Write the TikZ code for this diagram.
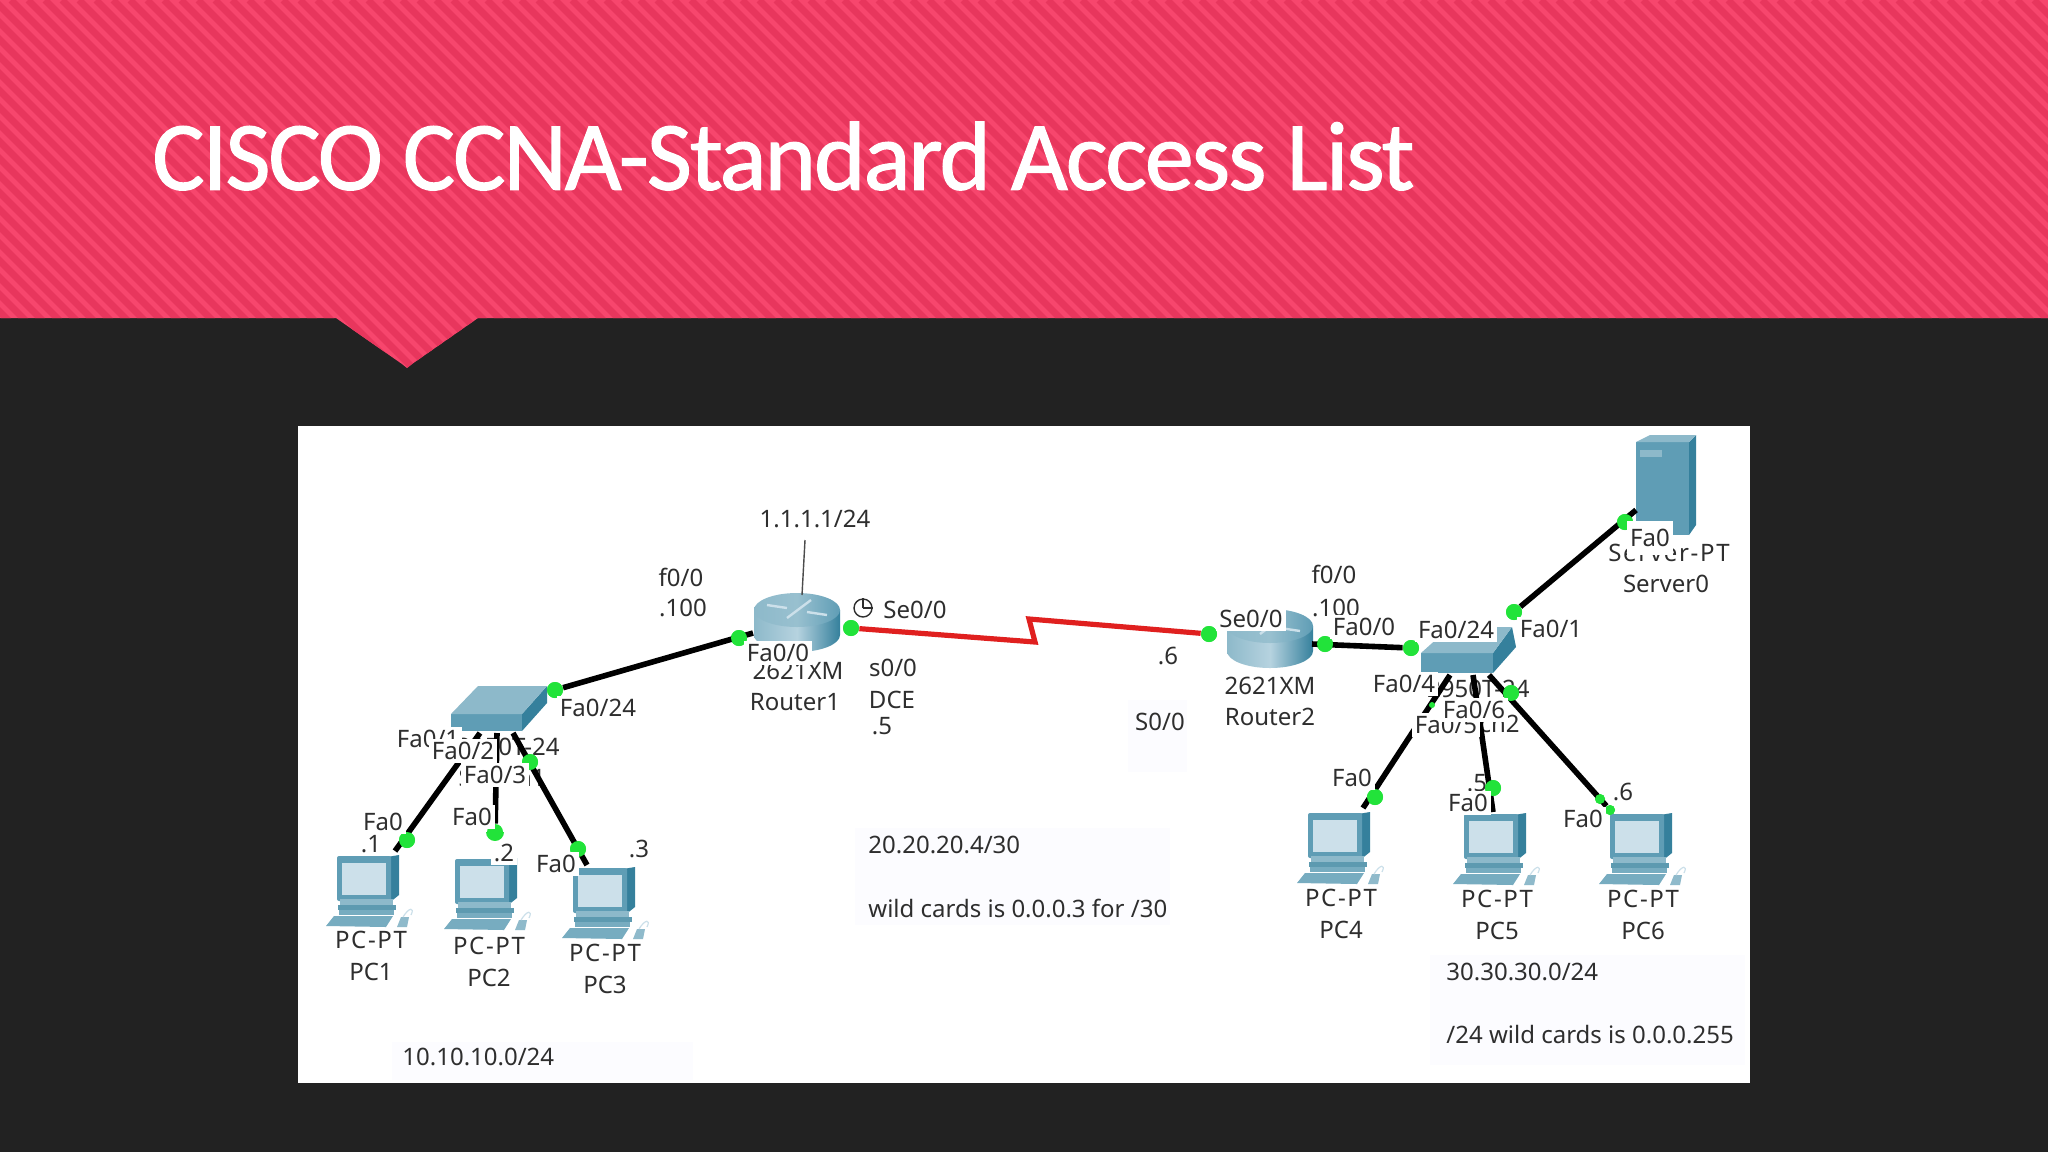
\documentclass[tikz,border=0pt]{standalone}
\usepackage{fontspec}
\setmainfont{Noto Sans}
\newfontfamily\titlefont[LetterSpace=-2,FakeBold=1.2]{Carlito}
\usetikzlibrary{calc}
\definecolor{slidebg}{HTML}{222222}
\definecolor{bannerA}{HTML}{F7466D}
\definecolor{bannerB}{HTML}{E8365D}
\definecolor{iconA}{HTML}{5F9DB5}
\definecolor{iconB}{HTML}{35809C}
\definecolor{iconC}{HTML}{CCE0EA}
\definecolor{iconD}{HTML}{8DB9CA}
\definecolor{portgreen}{HTML}{22E33A}
\definecolor{textgrey}{HTML}{2E2E2E}
\definecolor{serialred}{HTML}{E0201F}
\tikzset{
    lbl/.style={font=\fontsize{12}{14}\selectfont,text=textgrey,inner sep=1pt},
    wide/.style={font=\fontsize{12}{14}\selectfont\addfontfeature{LetterSpace=7}},
    port/.style={lbl,fill=white,inner xsep=1.5pt,inner ysep=1.5pt},
    note/.style={lbl,anchor=west},
    dot/.style={circle,fill=portgreen,minimum size=8pt,inner sep=0pt},
    link/.style={line width=2.8pt,black},
    serial/.style={line width=2.6pt,serialred},
    faint/.style={fill=black!1!blue!1!white,draw=none},
    pc/.pic={
        % monitor, stand, keyboard, mouse
        \fill[iconB] (50,2) -- (62,0) -- (62,40) -- (52,48) -- cycle;
        \fill[iconA,rounded corners=1pt] (0,1) rectangle (54,46);
        \fill[iconC] (5,8) rectangle (49,40);
        \fill[iconD] (3,44) rectangle (56,50);
        \fill[iconB!80!white] (1,50) rectangle (59,55);
        \fill[iconA!85!white] (2,55) rectangle (57,60);
        \fill[iconA!85!white] (-11,71) -- (-3,61) -- (56,61) -- (49,72) -- cycle;
        \fill[iconA!70!white] (60,72) -- (64,62) -- (72,62) -- (70,72) -- cycle;
        \draw[iconC,line width=.6pt] (66,62) .. controls (72,52) and (78,52) .. (74,60);
    },
    router/.pic={
        \shade[left color=iconD,right color=iconB,middle color=iconC!80!iconA] (-43,0) -- (-43,25) arc[x radius=43,y radius=17,start angle=180,end angle=0] -- (43,0) -- cycle;
        \shade[left color=iconD,right color=iconA,middle color=iconD!90!white] (0,0) ellipse[x radius=43,y radius=17];
        \draw[iconC,line width=1.2pt] (-30,-5) -- (-10,-2) (30,5) -- (10,2) (14,-10) -- (-10,8);
    },
}
\begin{document}
\begin{tikzpicture}[x=.5pt,y=-.5pt]
    \useasboundingbox (0,0) rectangle (2048,1152);
    \fill[slidebg] (0,0) rectangle (2048,1152);
    % banner with its stripes
    \begin{scope}
    \clip (0,0) -- (2048,0) -- (2048,318) -- (478,318) -- (412,364) -- (407,368) -- (402,364) -- (336,318) -- (0,318) -- cycle;
    \fill[bannerA] (0,0) rectangle (2048,370);
    \foreach \s in {-380,-363,...,2048}
        \draw[bannerB,line width=3.5pt] (\s,0) -- (\s+370,370);
    \end{scope}
    \node[font=\titlefont\fontsize{49}{55}\selectfont,text=white,anchor=west,inner sep=0pt] (title) at (152,156) {CISCO CCNA-Standard Access List};
    % panel
    \fill[white] (298,426) rectangle (1750,1083);
    \fill[faint] (392,1042) rectangle (693,1080);
    \fill[faint] (855,828) rectangle (1170,925);
    \fill[faint] (1128,700) rectangle (1187,772);
    \fill[faint] (1430,955) rectangle (1745,1065);
    \node[lbl] (dotone) at (371,844) {.1};
    % devices
    \pic at (337,855) {pc};
    \pic at (455,858) {pc};
    \pic at (573,867) {pc};
    \pic at (1308,812) {pc};
    \pic at (1464,813) {pc};
    \pic at (1610,813) {pc};
    \pic at (797,610) {router};
    \pic at (1270,626) {router};
    % switch1
    \fill[iconA] (451,714) rectangle (522,731);
    \fill[iconB] (522,714) -- (547,686) -- (547,703) -- (522,731) -- cycle;
    \fill[iconD] (451,714) -- (478,686) -- (547,686) -- (522,714) -- cycle;
    % switch2
    \fill[iconA] (1421,653) rectangle (1493,673);
    \fill[iconB] (1493,653) -- (1512,627) -- (1516,647) -- (1493,673) -- cycle;
    \fill[iconD] (1421,653) -- (1450,627) -- (1512,627) -- (1493,653) -- cycle;
    % server
    \fill[iconA] (1636,442) rectangle (1689,535);
    \fill[iconB] (1689,442) -- (1696,435) -- (1696,525) -- (1689,535) -- cycle;
    \fill[iconD] (1636,442) -- (1650,435) -- (1696,435) -- (1689,442) -- cycle;
    \fill[iconD] (1640,450) rectangle (1662,457);
    % names under the switches, overdrawn further on
    \node[lbl,anchor=east] (swA) at (562,747) {2950T-24};
    \node[lbl,anchor=east] (swAname) at (548,777) {Switch1};
    \node[lbl,anchor=east] (swB) at (1532,689) {2950T-24};
    \node[lbl,anchor=east] (swBname) at (1522,723) {Switch2};
    \node[lbl] (dotfive) at (1477,783) {.5};
    % ports
    \node[dot] (swAup) at (555,690) {};
    \node[dot] (rAl) at (739,638) {};
    \node[dot] (rAr) at (851,628) {};
    \node[dot] (rBl) at (1209,634) {};
    \node[dot] (rBr) at (1325,644) {};
    \node[dot] (swBl) at (1411,648) {};
    \node[dot] (swBup) at (1514,612) {};
    \node[dot] (srv) at (1625,522) {};
    \node[dot] (swAc) at (530,762) {};
    \node[dot] (swBc) at (1511,693) {};
    \node[dot] (pcA) at (407,840) {};
    \node[dot] (pcB) at (495,832) {};
    \node[dot] (pcC) at (578,849) {};
    \node[dot] (pcD) at (1375,797) {};
    \node[dot] (pcE) at (1493,788) {};
    \node[dot,minimum size=5pt] (pcF) at (1600,799) {};
    \node[dot,minimum size=5pt] (pcFb) at (1610,810) {};
    % free ends of the links
    \coordinate (swAt1) at (480,733);
    \coordinate (swAt2) at (497,733);
    \coordinate (swAt3) at (513,733);
    \coordinate (swBt1) at (1450,675);
    \coordinate (swBt2) at (1473,675);
    \coordinate (swBt3) at (1489,675);
    \coordinate (pcAin) at (395,851);
    \coordinate (pcCin) at (587,865);
    \coordinate (pcDin) at (1363,808);
    \coordinate (pcEin) at (1493,812);
    \coordinate (srvin) at (1636,510);
    \coordinate (rAin) at (753,633);
    \coordinate (rBin) at (1312,644);
    % links
    \draw[link] (swAup) -- (rAin);
    \draw[link] (swAt1) -- (pcAin);
    \draw[link] (swAt2) -- (pcB);
    \draw[link] (swAt3) -- (pcCin);
    \draw[link] (rBin) -- (swBl);
    \draw[link] (swBup) -- (srvin);
    \draw[link] (swBt1) -- (pcDin);
    \draw[link] (swBt2) -- (pcEin);
    \draw[link] (swBt3) -- (pcFb);
    \draw[serial] (rAr) -- (1035,642) -- (1029,619) -- (rBl);
    % the dots sit above the links
    \foreach \d in {swAup,rAl,rAr,rBl,rBr,swBl,swBup,srv,swAc,swBc,pcA,pcC,pcD,pcE}
        \fill[portgreen] (\d) circle (8);
    \foreach \d in {pcF,pcFb}
        \fill[portgreen] (\d) circle (5);
    \fill[portgreen] (pcB)+(-9,0) arc[radius=9,start angle=180,end angle=0] -- cycle;
    \fill[portgreen] (1432,705) circle (3);
    \draw[black!70,line width=.7pt] (805,540) -- (802,595);
    % port labels, with their white boxes
    \node[port] (fa1) at (428,739) {Fa0/1};
    \node[port] (fa2) at (463,751) {Fa0/2};
    \node[port] (fa3) at (495,775) {Fa0/3};
    \node[port] (fa24) at (598,708) {Fa0/24};
    \node[port] (faA) at (383,822) {Fa0};
    \node[port] (faB) at (472,817) {Fa0};
    \node[port] (faC) at (556,864) {Fa0};
    \node[port] (ipB) at (504,853) {.2};
    \node[port] (ipC) at (639,849) {.3};
    \node[lbl] (modelA) at (798,671) {2621XM};
    \node[port] (frA) at (778,653) {Fa0/0};
    \node[lbl] (nameA) at (795,702) {Router1};
    \node[lbl] (ipnet) at (815,519) {1.1.1.1/24};
    \node[lbl] (ifA) at (681,577) {f0/0};
    \node[lbl] (ipA) at (683,608) {.100};
    \node[lbl] (seA) at (915,610) {Se0/0};
    \node[lbl] (sA) at (893,668) {s0/0};
    \node[lbl] (dce) at (892,700) {DCE};
    \node[lbl] (ipsA) at (882,726) {.5};
    \node[lbl] (ipsB) at (1168,656) {.6};
    \node[lbl] (sB) at (1160,722) {S0/0};
    \node[circle,draw=textgrey,line width=.7pt,minimum size=9pt,inner sep=0pt] (clockA) at (863,608) {};
    \draw[textgrey,line width=.7pt] (clockA.center) -- (clockA.north) (clockA.center) -- (clockA.east);
    \node[port] (seB) at (1251,619) {Se0/0};
    \node[lbl] (ifB) at (1334,574) {f0/0};
    \node[lbl] (ipBr) at (1336,608) {.100};
    \node[port] (frB) at (1364,627) {Fa0/0};
    \node[lbl] (modelB) at (1270,686) {2621XM};
    \node[lbl] (nameB) at (1270,717) {Router2};
    \node[port] (fb24) at (1456,630) {Fa0/24};
    \node[port] (fb1) at (1551,629) {Fa0/1};
    \node[port] (fb5) at (1446,725) {Fa0/5};
    \node[port] (fb4) at (1404,684) {Fa0/4};
    \node[port] (fb6) at (1474,710) {Fa0/6};
    \node[lbl,wide] (srvmodel) at (1669,553) {Server-PT};
    \node[lbl] (srvname) at (1666,584) {Server0};
    \node[port,inner ysep=4pt] (srvfa) at (1650,538) {Fa0};
    \node[port] (faD) at (1352,778) {Fa0};
    \node[port] (faE) at (1468,803) {Fa0};
    \node[port] (faF) at (1583,819) {Fa0};
    \node[lbl] (ipF) at (1623,792) {.6};
    % names under the PCs
    \foreach \n/\x/\y/\m in {a/371/940/PC1,b/489/946/PC2,c/605/953/PC3,d/1341/898/PC4,e/1497/899/PC5,f/1643/899/PC6}{
        \node[lbl,wide] (type\n) at (\x,\y) {PC-PT};
        \node[lbl] (name\n) at ($(\x,\y)+(0,32)$) {\m};
    }
    % notes
    \node[note] (netA) at (400,1057) {10.10.10.0/24};
    \node[note] (netB) at (866,845) {20.20.20.4/30};
    \node[note] (wildB) at (866,908) {wild cards is 0.0.0.3 for /30};
    \node[note] (netC) at (1444,972) {30.30.30.0/24};
    \node[note] (wildC) at (1444,1035) {/24 wild cards is 0.0.0.255};
\end{tikzpicture}
\end{document}
